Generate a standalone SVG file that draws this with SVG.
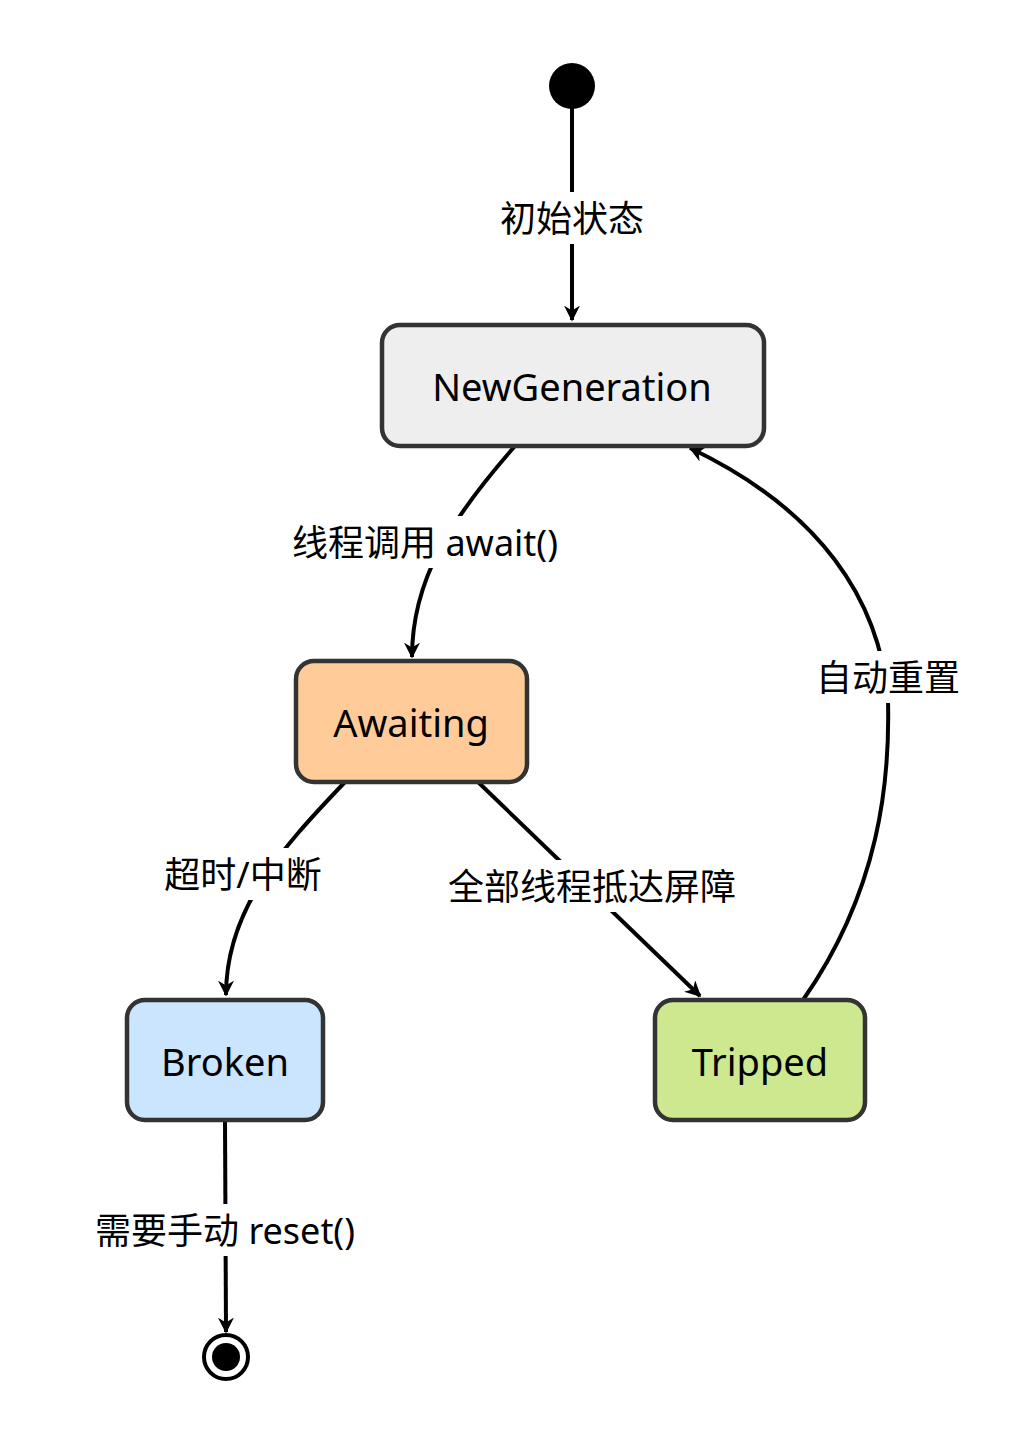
<svg xmlns="http://www.w3.org/2000/svg" width="1035" height="1440" viewBox="0 0 1035 1440">
<style>
.node{stroke:#333;stroke-width:4.5}
.nt{font-family:"Noto Sans","DejaVu Sans",sans-serif;font-size:38px;fill:#000;text-anchor:middle;dominant-baseline:central}
.e{fill:none;stroke:#000;stroke-width:4}
.lb{font-family:"Noto Sans","Noto Sans CJK SC",sans-serif;font-size:36px;fill:#000;text-anchor:middle;dominant-baseline:central}
.bg{fill:#fff}
</style>
<defs>
<marker id="a" viewBox="0 0 10 10" refX="9" refY="5" markerWidth="4" markerHeight="4" orient="auto" markerUnits="strokeWidth">
<path d="M0,0 L10,5 L0,10 L3,5 Z" fill="#000"/>
</marker>
</defs>
<rect width="1035" height="1440" fill="#fff"/>
<g id="start"><circle cx="572" cy="86" r="23" fill="#000"/></g>
<g id="end"><circle cx="226" cy="1357" r="22" fill="#fff" stroke="#000" stroke-width="4"/><circle cx="226" cy="1357" r="14" fill="#000"/></g>
<g id="connectors">
<path class="e" d="M572,108 L572,320" marker-end="url(#a)"/>
<path class="e" d="M515,446 C450,520 412,580 412,657" marker-end="url(#a)"/>
<path class="e" d="M345,782 C280,850 226,910 226,995" marker-end="url(#a)"/>
<path class="e" d="M478,782 L700,996" marker-end="url(#a)"/>
<path class="e" d="M803,1000 C880,890 890,780 888,700 C880,600 820,510 690,448" marker-end="url(#a)"/>
<path class="e" d="M225,1120 L226,1332" marker-end="url(#a)"/>
</g>
<g id="labels">
<rect class="bg" x="482" y="192" width="180" height="52"/><text class="lb" x="572" y="218">初始状态</text>
<rect class="bg" x="265" y="516" width="322" height="52"/><text class="lb" x="425" y="542">线程调用 await()</text>
<rect class="bg" x="145" y="848" width="196" height="52"/><text class="lb" x="243" y="874">超时/中断</text>
<rect class="bg" x="422" y="860" width="340" height="52"/><text class="lb" x="592" y="886">全部线程抵达屏障</text>
<rect class="bg" x="804" y="651" width="170" height="52"/><text class="lb" x="888" y="677">自动重置</text>
<rect class="bg" x="62" y="1204" width="326" height="52"/><text class="lb" x="225" y="1230">需要手动 reset()</text>
</g>
<g id="NewGeneration"><rect class="node" x="382" y="325" width="382" height="121" rx="18" fill="#eeeeee"/><text class="nt" x="572" y="386">NewGeneration</text></g>
<g id="Awaiting"><rect class="node" x="296" y="661" width="231" height="121" rx="18" fill="#ffcc99"/><text class="nt" x="411" y="722">Awaiting</text></g>
<g id="Broken"><rect class="node" x="127" y="1000" width="196" height="120" rx="18" fill="#cce5ff"/><text class="nt" x="225" y="1061">Broken</text></g>
<g id="Tripped"><rect class="node" x="655" y="1000" width="210" height="120" rx="18" fill="#cde88f"/><text class="nt" x="760" y="1061">Tripped</text></g>
</svg>
